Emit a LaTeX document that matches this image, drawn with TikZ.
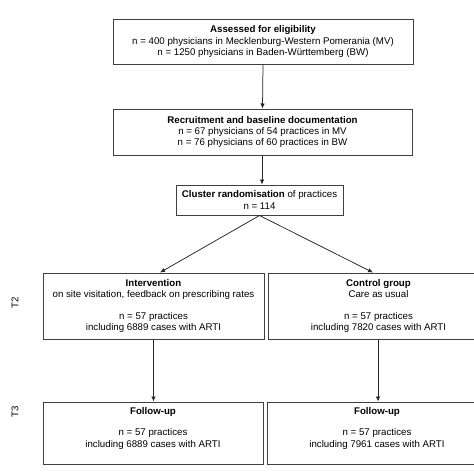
\documentclass[tikz,border=0pt]{standalone}
\usepackage{fontspec}
\setmainfont{Liberation Sans}
\usetikzlibrary{arrows.meta}
\begin{document}
\begin{tikzpicture}[x=1pt,y=-1pt,
  box/.style={draw=black!75, line width=1pt, inner sep=0pt, align=center,
    font=\fontsize{9.7}{11.4}\selectfont, anchor=center},
  arr/.style={draw=black!85, line width=0.75pt, -{Latex[length=5pt,width=4.5pt]}},
  lbl/.style={font=\fontsize{9.7}{11}\selectfont, rotate=90, inner sep=0pt}]
\useasboundingbox (0,0) rectangle (474,474);
\fill[white] (0,0) rectangle (474,474);
\clip (0,0) rectangle (474,474);

\node[box, minimum width=300pt, minimum height=45pt] (elig) at (263,41.5)
  {\textbf{Assessed for eligibility}\\
   n = 400 physicians in Mecklenburg-Western Pomerania (MV)\\
   n = 1250 physicians in Baden-Württemberg (BW)};

\node[box, minimum width=299pt, minimum height=46pt] (recr) at (262.5,132)
  {\textbf{Recruitment and baseline documentation}\\
   n = 67 physicians of 54 practices in MV\\
   n = 76 physicians of 60 practices in BW};

\node[box, minimum width=167pt, minimum height=30pt] (rand) at (259.5,200)
  {\textbf{Cluster randomisation} of practices\\
   n = 114};

\node[box, minimum width=221pt, minimum height=66pt] (interv) at (153.5,306)
  {\textbf{Intervention}\\
   on site visitation, feedback on prescribing rates\\[10pt]
   n = 57 practices\\
   including 6889 cases with ARTI};

\node[box, minimum width=221pt, minimum height=66pt] (ctrl) at (378.5,306)
  {\textbf{Control group}\\
   Care as usual\\[10pt]
   n = 57 practices\\
   including 7820 cases with ARTI};

\node[box, minimum width=220pt, minimum height=62pt] (fuI) at (153,433)
  {\textbf{Follow-up}\\[10pt]
   n = 57 practices\\
   including 6889 cases with ARTI\\
   \mbox{}};

\node[box, minimum width=220pt, minimum height=62pt] (fuC) at (377,433)
  {\textbf{Follow-up}\\[10pt]
   n = 57 practices\\
   including 7961 cases with ARTI\\
   \mbox{}};

\node[lbl] (t2) at (15,303) {T2};
\node[lbl] (t3) at (15,412) {T3};

\draw[arr] (elig.south) -- (recr.north);
\draw[arr] ([xshift=-0.5pt]recr.south) -- ([xshift=2.5pt]rand.north);
\draw[arr] (rand.south) -- ([xshift=6.5pt]interv.north);
\draw[arr] (rand.south) -- ([xshift=-5.5pt]ctrl.north);
\draw[arr] (interv.south) -- (interv.south |- fuI.north);
\draw[arr] ([xshift=-0.5pt]ctrl.south) -- ([xshift=-0.5pt]ctrl.south |- fuC.north);
\end{tikzpicture}
\end{document}
